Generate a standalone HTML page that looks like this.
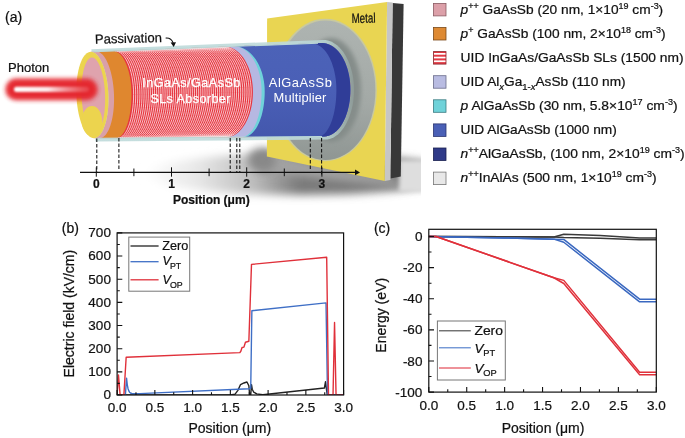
<!DOCTYPE html><html><head><meta charset="utf-8"><style>html,body{margin:0;padding:0;background:#fff;overflow:hidden}svg{display:block}text{font-family:'Liberation Sans', Arial, sans-serif}text[fill="#111"]{stroke:#111;stroke-width:0.22px}</style></head><body>
<svg width="685" height="438" viewBox="0 0 685 438">
<defs>
<filter id="bl2" x="-50%" y="-50%" width="200%" height="200%"><feGaussianBlur stdDeviation="2"/></filter>
<filter id="bl1" x="-50%" y="-50%" width="200%" height="200%"><feGaussianBlur stdDeviation="0.8"/></filter>
<filter id="bl05" x="-50%" y="-50%" width="200%" height="200%"><feGaussianBlur stdDeviation="0.5"/></filter>
<filter id="bl4" x="-50%" y="-50%" width="200%" height="200%"><feGaussianBlur stdDeviation="4"/></filter>
<filter id="bl8" x="-50%" y="-50%" width="200%" height="200%"><feGaussianBlur stdDeviation="10"/></filter>
<linearGradient id="core" x1="0" y1="0" x2="1" y2="0"><stop offset="0" stop-color="#fff"/><stop offset="0.45" stop-color="#fff" stop-opacity="0.9"/><stop offset="1" stop-color="#f3a0a4" stop-opacity="0.2"/></linearGradient>
<linearGradient id="blueg" x1="0" y1="0" x2="0" y2="1"><stop offset="0" stop-color="#4c63b8"/><stop offset="0.5" stop-color="#4a5fb6"/><stop offset="1" stop-color="#4256ab"/></linearGradient>
<linearGradient id="pass" x1="0" y1="0" x2="0" y2="1"><stop offset="0" stop-color="#d3e6e6"/><stop offset="1" stop-color="#b6d6d6"/></linearGradient>
<clipPath id="panelA"><rect x="0" y="0" width="421" height="215"/></clipPath>
</defs>
<linearGradient id="shg" x1="145" y1="0" x2="300" y2="0" gradientUnits="userSpaceOnUse"><stop offset="0" stop-color="#ffffff"/><stop offset="0.35" stop-color="#e6e6e6"/><stop offset="0.7" stop-color="#bdbdbd"/><stop offset="1" stop-color="#7a7a7a"/></linearGradient>
<g clip-path="url(#panelA)">
<ellipse cx="300" cy="174" rx="155" ry="21" fill="url(#shg)" filter="url(#bl4)"/>
<polygon points="262,152 390,178 408,188 262,172" fill="#a2a2a2" filter="url(#bl4)"/>
<rect x="399" y="160" width="30" height="32" fill="#dedede" filter="url(#bl2)"/>
<ellipse cx="262" cy="160" rx="14" ry="12" fill="#888" filter="url(#bl4)"/>
</g>
<polygon points="392.6,3.1 403.6,4.1 400.8,176.4 390.4,178.5" fill="#383838"/>
<polygon points="387.1,2 392.6,2.4 390.4,179.9 384.7,180.9" fill="#c6c6c6"/>
<polygon points="267.1,18.5 387.1,2 384.7,180.9 266.9,156.4" fill="#e9d552"/>
<ellipse cx="325.2" cy="90" rx="51.6" ry="71.3" fill="#c9c99e"/>
<linearGradient id="discg" x1="0" y1="20" x2="0" y2="160" gradientUnits="userSpaceOnUse"><stop offset="0" stop-color="#aeb4b1"/><stop offset="0.6" stop-color="#a3a9a6"/><stop offset="1" stop-color="#8f9693"/></linearGradient>
<ellipse cx="325.4" cy="90.3" rx="50" ry="69.8" fill="url(#discg)"/>
<ellipse cx="331" cy="90" rx="30" ry="52" fill="#858d8a" filter="url(#bl2)"/>
<linearGradient id="shellg" x1="300" y1="0" x2="354" y2="0" gradientUnits="userSpaceOnUse"><stop offset="0" stop-color="#bedada"/><stop offset="0.5" stop-color="#b8d3d1"/><stop offset="1" stop-color="#8f9c99"/></linearGradient>
<path d="M91.40,49.18 L323.00,39.92 L323.00,39.92 L325.43,40.08 L327.85,40.54 L330.24,41.30 L332.58,42.36 L334.86,43.72 L337.07,45.35 L339.20,47.27 L341.22,49.44 L343.13,51.86 L344.92,54.52 L346.57,57.39 L348.08,60.46 L349.43,63.72 L350.62,67.13 L351.64,70.68 L352.48,74.35 L353.14,78.12 L353.62,81.96 L353.90,85.84 L354.00,89.75 L353.91,93.66 L353.64,97.55 L353.20,101.38 L352.58,105.15 L351.79,108.82 L350.84,112.37 L349.73,115.79 L348.46,119.04 L347.05,122.11 L345.51,124.99 L343.83,127.64 L342.05,130.06 L340.15,132.24 L338.17,134.15 L336.10,135.79 L333.96,137.14 L331.77,138.20 L329.54,138.97 L327.28,139.43 L325.00,139.58 L95.40,141.43 Z" fill="url(#shellg)" opacity="0.9"/>
<clipPath id="cyl"><path d="M92.40,51.78 L322.40,43.12 L322.40,43.12 L324.60,43.27 L326.78,43.70 L328.94,44.41 L331.05,45.40 L333.12,46.67 L335.11,48.20 L337.03,49.99 L338.86,52.03 L340.58,54.29 L342.20,56.78 L343.69,59.47 L345.05,62.34 L346.27,65.39 L347.35,68.58 L348.27,71.91 L349.03,75.34 L349.63,78.87 L350.06,82.46 L350.31,86.09 L350.40,89.75 L350.32,93.41 L350.08,97.05 L349.68,100.64 L349.13,104.16 L348.42,107.60 L347.57,110.92 L346.57,114.12 L345.43,117.16 L344.17,120.03 L342.78,122.72 L341.29,125.21 L339.68,127.48 L337.98,129.51 L336.20,131.30 L334.35,132.83 L332.43,134.10 L330.47,135.09 L328.47,135.81 L326.44,136.24 L324.40,136.38 L92.40,138.23 L93.91,138.23 L92.65,138.10 L91.39,137.70 L90.14,137.03 L88.89,136.11 L87.67,134.94 L86.48,133.52 L85.33,131.86 L84.22,129.97 L83.16,127.87 L82.16,125.57 L81.22,123.08 L80.34,120.41 L79.55,117.59 L78.83,114.63 L78.20,111.55 L77.65,108.36 L77.20,105.10 L76.83,101.77 L76.57,98.40 L76.40,95.01 L76.33,91.62 L76.36,88.25 L76.49,84.92 L76.72,81.65 L77.04,78.47 L77.46,75.38 L77.97,72.42 L78.57,69.60 L79.25,66.94 L80.02,64.44 L80.86,62.14 L81.77,60.04 L82.75,58.15 L83.79,56.50 L84.88,55.08 L86.02,53.90 L87.19,52.98 L88.40,52.32 L89.64,51.92 L90.89,51.78 Z"/></clipPath>
<g clip-path="url(#cyl)">
<path d="M420.00,43.78 L90.89,43.78 L90.89,51.78 L92.15,51.92 L93.41,52.32 L94.66,52.98 L95.91,53.90 L97.13,55.08 L98.32,56.50 L99.47,58.15 L100.58,60.04 L101.64,62.14 L102.64,64.44 L103.58,66.94 L104.46,69.60 L105.25,72.42 L105.97,75.38 L106.60,78.47 L107.15,81.65 L107.60,84.92 L107.97,88.25 L108.23,91.62 L108.40,95.01 L108.47,98.40 L108.44,101.77 L108.31,105.10 L108.08,108.36 L107.76,111.55 L107.34,114.63 L106.83,117.59 L106.23,120.41 L105.55,123.08 L104.78,125.57 L103.94,127.87 L103.03,129.97 L102.05,131.86 L101.01,133.52 L99.92,134.94 L98.78,136.11 L97.61,137.03 L96.40,137.70 L95.16,138.10 L93.91,138.23 L93.91,146.23 L420.00,146.23 Z" fill="#d9a0a9"/>
<path d="M420.00,43.58 L96.48,43.58 L96.48,51.58 L97.74,51.71 L99.01,52.11 L100.26,52.77 L101.50,53.69 L102.72,54.87 L103.91,56.29 L105.07,57.96 L106.18,59.85 L107.24,61.95 L108.24,64.26 L109.18,66.76 L110.05,69.43 L110.85,72.25 L111.57,75.22 L112.20,78.31 L112.75,81.50 L113.20,84.77 L113.57,88.11 L113.83,91.48 L114.00,94.88 L114.07,98.28 L114.04,101.65 L113.91,104.99 L113.69,108.26 L113.36,111.45 L112.94,114.54 L112.43,117.51 L111.84,120.33 L111.15,123.00 L110.39,125.50 L109.54,127.81 L108.63,129.91 L107.65,131.80 L106.61,133.46 L105.52,134.89 L104.39,136.06 L103.21,136.99 L102.00,137.65 L100.77,138.05 L99.52,138.18 L99.52,146.18 L420.00,146.18 Z" fill="#df872f"/>
<path d="M420.00,42.95 L113.00,42.95 L113.00,50.95 L114.45,51.09 L115.89,51.49 L117.32,52.16 L118.72,53.08 L120.08,54.27 L121.40,55.70 L122.67,57.37 L123.87,59.27 L125.01,61.39 L126.08,63.71 L127.07,66.22 L127.97,68.90 L128.77,71.75 L129.48,74.73 L130.09,77.84 L130.59,81.04 L130.99,84.34 L131.27,87.69 L131.44,91.09 L131.50,94.50 L131.45,97.92 L131.31,101.31 L131.08,104.67 L130.75,107.96 L130.34,111.17 L129.83,114.27 L129.25,117.26 L128.58,120.10 L127.83,122.78 L127.02,125.30 L126.14,127.62 L125.19,129.73 L124.19,131.63 L123.15,133.30 L122.06,134.74 L120.93,135.92 L119.77,136.85 L118.59,137.52 L117.40,137.92 L116.20,138.05 L116.20,146.05 L420.00,146.05 Z" fill="#e6343f"/>
<path d="M420.00,38.79 L225.20,38.79 L225.20,46.79 L227.37,46.93 L229.53,47.34 L231.67,48.03 L233.76,49.00 L235.80,50.23 L237.78,51.71 L239.67,53.45 L241.48,55.42 L243.19,57.61 L244.79,60.02 L246.26,62.63 L247.61,65.41 L248.82,68.36 L249.88,71.46 L250.79,74.68 L251.54,78.01 L252.13,81.43 L252.56,84.91 L252.81,88.43 L252.90,91.97 L252.82,95.52 L252.57,99.04 L252.16,102.52 L251.59,105.94 L250.87,109.27 L249.99,112.49 L248.97,115.59 L247.80,118.54 L246.50,121.32 L245.08,123.93 L243.54,126.34 L241.89,128.53 L240.15,130.50 L238.32,132.24 L236.42,133.72 L234.45,134.95 L232.43,135.91 L230.38,136.61 L228.29,137.02 L226.20,137.16 L226.20,145.16 L420.00,145.16 Z" fill="#b6b8e2"/>
<path d="M420.00,38.33 L234.10,38.33 L234.10,46.33 L236.26,46.47 L238.40,46.89 L240.52,47.58 L242.60,48.55 L244.62,49.78 L246.58,51.28 L248.47,53.02 L250.26,55.00 L251.96,57.20 L253.55,59.62 L255.01,62.23 L256.35,65.03 L257.55,67.99 L258.60,71.10 L259.51,74.34 L260.25,77.68 L260.84,81.11 L261.26,84.60 L261.52,88.14 L261.60,91.70 L261.54,95.26 L261.35,98.79 L261.05,102.29 L260.62,105.72 L260.08,109.06 L259.42,112.29 L258.65,115.40 L257.78,118.36 L256.81,121.16 L255.74,123.78 L254.59,126.20 L253.36,128.40 L252.05,130.38 L250.68,132.12 L249.25,133.61 L247.78,134.84 L246.27,135.81 L244.73,136.51 L243.17,136.93 L241.60,137.07 L241.60,145.07 L420.00,145.07 Z" fill="#6fd2da"/>
<path d="M420.00,38.29 L234.30,38.29 L234.30,46.29 L236.69,46.43 L239.06,46.85 L241.40,47.54 L243.69,48.51 L245.93,49.74 L248.10,51.23 L250.18,52.98 L252.17,54.96 L254.04,57.16 L255.80,59.58 L257.42,62.20 L258.89,65.00 L260.22,67.96 L261.39,71.07 L262.39,74.30 L263.21,77.65 L263.86,81.08 L264.33,84.57 L264.61,88.11 L264.70,91.67 L264.64,95.23 L264.44,98.77 L264.12,102.27 L263.67,105.70 L263.10,109.04 L262.41,112.28 L261.61,115.38 L260.69,118.35 L259.67,121.15 L258.55,123.76 L257.34,126.18 L256.04,128.39 L254.67,130.37 L253.23,132.11 L251.74,133.60 L250.19,134.83 L248.60,135.80 L246.99,136.50 L245.35,136.92 L243.70,137.06 L243.70,145.06 L420.00,145.06 Z" fill="url(#blueg)"/>
<path d="M420.00,35.44 L311.70,35.44 L311.70,43.44 L313.64,43.58 L315.56,44.01 L317.47,44.72 L319.33,45.72 L321.15,46.98 L322.91,48.51 L324.61,50.29 L326.22,52.32 L327.74,54.58 L329.17,57.06 L330.48,59.74 L331.68,62.61 L332.76,65.65 L333.71,68.83 L334.52,72.15 L335.19,75.57 L335.72,79.09 L336.10,82.67 L336.32,86.30 L336.40,89.94 L336.34,93.59 L336.18,97.22 L335.90,100.80 L335.51,104.31 L335.01,107.74 L334.42,111.06 L333.72,114.24 L332.92,117.28 L332.04,120.15 L331.07,122.83 L330.02,125.31 L328.90,127.57 L327.71,129.60 L326.46,131.38 L325.16,132.91 L323.82,134.17 L322.45,135.16 L321.05,135.88 L319.63,136.31 L318.20,136.45 L318.20,144.45 L420.00,144.45 Z" fill="#303d98"/>
<path d="M114.94,50.88 L116.89,51.12 L118.82,51.83 L120.71,53.01 L122.53,54.65 L124.27,56.72 L125.91,59.20 L127.43,62.07 L128.81,65.30 L130.04,68.84 L131.10,72.67 L131.99,76.73 L132.69,80.99 L133.19,85.40 L133.50,89.90 L133.60,94.46 L133.52,99.01 L133.26,103.52 L132.84,107.92 L132.26,112.18 L131.52,116.25 L130.64,120.07 L129.62,123.62 L128.47,126.84 L127.21,129.71 L125.85,132.20 L124.41,134.27 L122.89,135.90 L121.32,137.08 L119.72,137.80 L118.10,138.04 M116.88,50.81 L118.85,51.05 L120.79,51.76 L122.70,52.94 L124.54,54.58 L126.29,56.65 L127.94,59.14 L129.47,62.01 L130.87,65.24 L132.11,68.78 L133.18,72.61 L134.07,76.68 L134.78,80.94 L135.29,85.35 L135.60,89.86 L135.70,94.41 L135.61,98.97 L135.36,103.48 L134.93,107.89 L134.34,112.15 L133.60,116.22 L132.70,120.05 L131.67,123.59 L130.51,126.82 L129.23,129.69 L127.85,132.18 L126.39,134.25 L124.86,135.89 L123.27,137.07 L121.65,137.78 L120.01,138.02 M118.82,50.74 L120.81,50.98 L122.77,51.69 L124.69,52.87 L126.54,54.51 L128.31,56.58 L129.98,59.07 L131.52,61.94 L132.93,65.17 L134.18,68.72 L135.26,72.55 L136.16,76.62 L136.87,80.89 L137.39,85.30 L137.70,89.81 L137.80,94.37 L137.71,98.93 L137.45,103.44 L137.02,107.85 L136.43,112.12 L135.67,116.19 L134.76,120.02 L133.72,123.57 L132.54,126.80 L131.25,129.67 L129.85,132.16 L128.37,134.23 L126.82,135.87 L125.21,137.05 L123.57,137.77 L121.91,138.01 M120.76,50.66 L122.76,50.90 L124.74,51.62 L126.68,52.80 L128.55,54.44 L130.33,56.51 L132.01,59.00 L133.57,61.88 L134.98,65.11 L136.25,68.66 L137.34,72.50 L138.25,76.57 L138.96,80.83 L139.48,85.25 L139.80,89.76 L139.90,94.33 L139.81,98.89 L139.55,103.40 L139.11,107.82 L138.51,112.09 L137.74,116.16 L136.83,119.99 L135.77,123.54 L134.58,126.77 L133.27,129.65 L131.86,132.14 L130.36,134.21 L128.78,135.85 L127.16,137.04 L125.49,137.75 L123.81,137.99 M122.70,50.59 L124.72,50.83 L126.72,51.55 L128.67,52.73 L130.55,54.37 L132.35,56.45 L134.05,58.94 L135.62,61.81 L137.04,65.05 L138.31,68.60 L139.41,72.44 L140.33,76.51 L141.06,80.78 L141.58,85.20 L141.89,89.72 L142.00,94.28 L141.91,98.85 L141.64,103.37 L141.20,107.78 L140.59,112.05 L139.82,116.13 L138.89,119.96 L137.82,123.52 L136.61,126.75 L135.29,129.63 L133.86,132.12 L132.34,134.20 L130.75,135.84 L129.10,137.02 L127.42,137.73 L125.71,137.97 M124.65,50.52 L126.68,50.76 L128.69,51.48 L130.66,52.66 L132.56,54.30 L134.37,56.38 L136.08,58.87 L137.66,61.75 L139.10,64.99 L140.38,68.54 L141.49,72.38 L142.42,76.46 L143.15,80.73 L143.67,85.15 L143.99,89.67 L144.10,94.24 L144.01,98.81 L143.74,103.33 L143.29,107.75 L142.67,112.02 L141.89,116.10 L140.95,119.94 L139.87,123.49 L138.65,126.73 L137.31,129.61 L135.86,132.10 L134.32,134.18 L132.71,135.82 L131.04,137.00 L129.34,137.72 L127.62,137.96 M126.59,50.45 L128.64,50.69 L130.66,51.40 L132.65,52.59 L134.56,54.23 L136.39,56.31 L138.11,58.80 L139.71,61.68 L141.16,64.92 L142.45,68.48 L143.57,72.32 L144.50,76.40 L145.24,80.68 L145.77,85.10 L146.09,89.62 L146.20,94.20 L146.11,98.77 L145.84,103.29 L145.38,107.71 L144.76,111.99 L143.97,116.07 L143.01,119.91 L141.92,123.47 L140.68,126.71 L139.32,129.59 L137.86,132.08 L136.30,134.16 L134.67,135.80 L132.99,136.99 L131.26,137.70 L129.52,137.94 M128.53,50.38 L130.59,50.62 L132.64,51.33 L134.64,52.52 L136.57,54.16 L138.41,56.24 L140.15,58.74 L141.76,61.62 L143.22,64.86 L144.52,68.42 L145.65,72.26 L146.59,76.35 L147.33,80.62 L147.87,85.05 L148.19,89.58 L148.30,94.15 L148.21,98.73 L147.93,103.25 L147.47,107.68 L146.84,111.96 L146.04,116.04 L145.08,119.88 L143.96,123.44 L142.72,126.68 L141.34,129.57 L139.86,132.06 L138.29,134.14 L136.64,135.79 L134.93,136.97 L133.19,137.69 L131.42,137.93 M130.47,50.30 L132.55,50.54 L134.61,51.26 L136.63,52.45 L138.57,54.09 L140.43,56.17 L142.18,58.67 L143.81,61.56 L145.28,64.80 L146.59,68.36 L147.73,72.21 L148.68,76.29 L149.42,80.57 L149.96,85.00 L150.29,89.53 L150.40,94.11 L150.31,98.69 L150.03,103.22 L149.56,107.64 L148.92,111.93 L148.11,116.01 L147.14,119.86 L146.01,123.42 L144.75,126.66 L143.36,129.55 L141.86,132.04 L140.27,134.13 L138.60,135.77 L136.88,136.96 L135.11,137.67 L133.33,137.91 M132.41,50.23 L134.51,50.47 L136.59,51.19 L138.62,52.38 L140.58,54.02 L142.45,56.10 L144.22,58.60 L145.85,61.49 L147.34,64.73 L148.66,68.30 L149.81,72.15 L150.76,76.24 L151.52,80.52 L152.06,84.95 L152.39,89.48 L152.50,94.06 L152.41,98.65 L152.12,103.18 L151.65,107.61 L151.01,111.89 L150.19,115.98 L149.20,119.83 L148.06,123.39 L146.79,126.64 L145.38,129.53 L143.86,132.02 L142.25,134.11 L140.57,135.75 L138.82,136.94 L137.03,137.66 L135.23,137.90 M134.35,50.16 L136.47,50.40 L138.56,51.12 L140.61,52.31 L142.59,53.95 L144.47,56.04 L146.25,58.54 L147.90,61.43 L149.40,64.67 L150.73,68.24 L151.89,72.09 L152.85,76.18 L153.61,80.47 L154.16,84.90 L154.49,89.44 L154.60,94.02 L154.50,98.61 L154.22,103.14 L153.74,107.57 L153.09,111.86 L152.26,115.95 L151.26,119.80 L150.11,123.37 L148.82,126.62 L147.40,129.51 L145.87,132.01 L144.24,134.09 L142.53,135.74 L140.76,136.92 L138.96,137.64 L137.13,137.88 M136.29,50.09 L138.42,50.33 L140.53,51.05 L142.60,52.24 L144.59,53.88 L146.50,55.97 L148.29,58.47 L149.95,61.36 L151.46,64.61 L152.80,68.18 L153.97,72.03 L154.94,76.13 L155.70,80.41 L156.25,84.85 L156.59,89.39 L156.70,93.98 L156.60,98.56 L156.31,103.10 L155.84,107.54 L155.17,111.83 L154.33,115.92 L153.33,119.77 L152.16,123.35 L150.85,126.59 L149.42,129.48 L147.87,131.99 L146.22,134.07 L144.49,135.72 L142.71,136.91 L140.88,137.63 L139.03,137.87 M138.23,50.02 L140.38,50.26 L142.51,50.98 L144.59,52.17 L146.60,53.81 L148.52,55.90 L150.32,58.40 L151.99,61.30 L153.52,64.55 L154.87,68.12 L156.04,71.97 L157.02,76.07 L157.79,80.36 L158.35,84.80 L158.69,89.34 L158.80,93.93 L158.70,98.52 L158.41,103.06 L157.93,107.50 L157.26,111.80 L156.41,115.89 L155.39,119.75 L154.21,123.32 L152.89,126.57 L151.44,129.46 L149.87,131.97 L148.20,134.05 L146.46,135.70 L144.65,136.89 L142.80,137.61 L140.94,137.85 M140.17,49.94 L142.34,50.18 L144.48,50.90 L146.58,52.09 L148.60,53.74 L150.54,55.83 L152.36,58.34 L154.04,61.23 L155.58,64.48 L156.94,68.06 L158.12,71.92 L159.11,76.02 L159.89,80.31 L160.45,84.75 L160.79,89.30 L160.90,93.89 L160.80,98.48 L160.51,103.03 L160.02,107.47 L159.34,111.76 L158.48,115.86 L157.45,119.72 L156.26,123.30 L154.92,126.55 L153.46,129.44 L151.87,131.95 L150.19,134.04 L148.42,135.69 L146.59,136.88 L144.73,137.60 L142.84,137.84 M142.11,49.87 L144.30,50.11 L146.46,50.83 L148.57,52.02 L150.61,53.67 L152.56,55.76 L154.39,58.27 L156.09,61.17 L157.64,64.42 L159.01,68.00 L160.20,71.86 L161.19,75.96 L161.98,80.26 L162.54,84.70 L162.89,89.25 L163.00,93.85 L162.90,98.44 L162.60,102.99 L162.11,107.43 L161.42,111.73 L160.55,115.83 L159.51,119.69 L158.31,123.27 L156.96,126.53 L155.47,129.42 L153.87,131.93 L152.17,134.02 L150.38,135.67 L148.54,136.86 L146.65,137.58 L144.74,137.82 M144.05,49.80 L146.25,50.04 L148.43,50.76 L150.56,51.95 L152.61,53.60 L154.58,55.69 L156.42,58.20 L158.14,61.10 L159.69,64.36 L161.08,67.94 L162.28,71.80 L163.28,75.90 L164.07,80.20 L164.64,84.65 L164.98,89.20 L165.10,93.80 L165.00,98.40 L164.70,102.95 L164.20,107.40 L163.50,111.70 L162.63,115.80 L161.58,119.67 L160.36,123.25 L158.99,126.50 L157.49,129.40 L155.87,131.91 L154.15,134.00 L152.35,135.65 L150.48,136.84 L148.57,137.56 L146.64,137.81 M145.99,49.73 L148.21,49.97 L150.40,50.69 L152.55,51.88 L154.62,53.53 L156.60,55.63 L158.46,58.14 L160.18,61.04 L161.75,64.30 L163.15,67.88 L164.36,71.74 L165.37,75.85 L166.16,80.15 L166.74,84.60 L167.08,89.16 L167.20,93.76 L167.10,98.36 L166.79,102.91 L166.29,107.36 L165.59,111.67 L164.70,115.77 L163.64,119.64 L162.41,123.22 L161.03,126.48 L159.51,129.38 L157.87,131.89 L156.13,133.98 L154.31,135.63 L152.43,136.83 L150.50,137.55 L148.55,137.79 M147.94,49.66 L150.17,49.90 L152.38,50.62 L154.54,51.81 L156.63,53.46 L158.62,55.56 L160.49,58.07 L162.23,60.97 L163.81,64.23 L165.22,67.82 L166.44,71.69 L167.45,75.79 L168.25,80.10 L168.83,84.55 L169.18,89.11 L169.30,93.71 L169.20,98.32 L168.89,102.88 L168.38,107.33 L167.67,111.64 L166.77,115.74 L165.70,119.61 L164.46,123.20 L163.06,126.46 L161.53,129.36 L159.88,131.87 L158.12,133.97 L156.28,135.62 L154.37,136.81 L152.42,137.53 L150.45,137.77 M149.88,49.58 L152.13,49.82 L154.35,50.55 L156.53,51.74 L158.63,53.39 L160.64,55.49 L162.53,58.00 L164.28,60.91 L165.87,64.17 L167.29,67.76 L168.52,71.63 L169.54,75.74 L170.35,80.05 L170.93,84.50 L171.28,89.06 L171.40,93.67 L171.30,98.28 L170.98,102.84 L170.47,107.30 L169.75,111.60 L168.85,115.72 L167.76,119.59 L166.51,123.17 L165.10,126.43 L163.55,129.34 L161.88,131.85 L160.10,133.95 L158.24,135.60 L156.31,136.80 L154.34,137.52 L152.35,137.76 M151.82,49.51 L154.08,49.75 L156.33,50.48 L158.52,51.67 L160.64,53.33 L162.66,55.42 L164.56,57.94 L166.33,60.84 L167.93,64.11 L169.36,67.70 L170.60,71.57 L171.63,75.68 L172.44,79.99 L173.03,84.46 L173.38,89.02 L173.50,93.63 L173.39,98.24 L173.08,102.80 L172.56,107.26 L171.84,111.57 L170.92,115.69 L169.82,119.56 L168.56,123.15 L167.13,126.41 L165.57,129.32 L163.88,131.83 L162.08,133.93 L160.20,135.58 L158.26,136.78 L156.27,137.50 L154.26,137.74 M153.76,49.44 L156.04,49.68 L158.30,50.40 L160.51,51.60 L162.64,53.26 L164.68,55.35 L166.60,57.87 L168.37,60.78 L169.99,64.05 L171.43,67.64 L172.67,71.51 L173.71,75.63 L174.53,79.94 L175.12,84.41 L175.48,88.97 L175.60,93.58 L175.49,98.20 L175.18,102.76 L174.65,107.23 L173.92,111.54 L173.00,115.66 L171.89,119.53 L170.61,123.12 L169.17,126.39 L167.59,129.30 L165.88,131.81 L164.07,133.91 L162.17,135.57 L160.20,136.76 L158.19,137.49 L156.16,137.73 M155.70,49.37 L158.00,49.61 L160.27,50.33 L162.50,51.53 L164.65,53.19 L166.70,55.29 L168.63,57.80 L170.42,60.71 L172.05,63.98 L173.50,67.58 L174.75,71.45 L175.80,75.57 L176.62,79.89 L177.22,84.36 L177.58,88.92 L177.70,93.54 L177.59,98.16 L177.27,102.72 L176.74,107.19 L176.00,111.51 L175.07,115.63 L173.95,119.50 L172.66,123.10 L171.20,126.37 L169.60,129.28 L167.88,131.79 L166.05,133.89 L164.13,135.55 L162.14,136.75 L160.11,137.47 L158.06,137.71 M157.64,49.29 L159.96,49.54 L162.25,50.26 L164.49,51.46 L166.65,53.12 L168.72,55.22 L170.67,57.74 L172.47,60.65 L174.11,63.92 L175.57,67.52 L176.83,71.40 L177.88,75.52 L178.72,79.84 L179.32,84.31 L179.68,88.88 L179.80,93.50 L179.69,98.12 L179.37,102.69 L178.83,107.16 L178.09,111.47 L177.14,115.60 L176.01,119.48 L174.71,123.07 L173.24,126.34 L171.62,129.26 L169.88,131.78 L168.03,133.88 L166.09,135.53 L164.09,136.73 L162.04,137.46 L159.96,137.70 M159.58,49.22 L161.91,49.47 L164.22,50.19 L166.48,51.39 L168.66,53.05 L170.74,55.15 L172.70,57.67 L174.52,60.58 L176.17,63.86 L177.64,67.45 L178.91,71.34 L179.97,75.46 L180.81,79.78 L181.41,84.26 L181.78,88.83 L181.90,93.45 L181.79,98.08 L181.46,102.65 L180.92,107.12 L180.17,111.44 L179.22,115.57 L178.07,119.45 L176.75,123.05 L175.27,126.32 L173.64,129.24 L171.88,131.76 L170.02,133.86 L168.06,135.52 L166.03,136.72 L163.96,137.44 L161.87,137.68 M161.52,49.15 L163.87,49.39 L166.19,50.12 L168.47,51.32 L170.66,52.98 L172.76,55.08 L174.73,57.60 L176.56,60.52 L178.23,63.79 L179.71,67.39 L180.99,71.28 L182.06,75.41 L182.90,79.73 L183.51,84.21 L183.88,88.78 L184.00,93.41 L183.89,98.04 L183.56,102.61 L183.01,107.09 L182.25,111.41 L181.29,115.54 L180.14,119.42 L178.80,123.02 L177.31,126.30 L175.66,129.21 L173.89,131.74 L172.00,133.84 L170.02,135.50 L167.98,136.70 L165.88,137.42 L163.77,137.67 M163.46,49.08 L165.83,49.32 L168.17,50.05 L170.46,51.25 L172.67,52.91 L174.78,55.01 L176.77,57.54 L178.61,60.45 L180.29,63.73 L181.78,67.33 L183.07,71.22 L184.14,75.35 L184.99,79.68 L185.61,84.16 L185.98,88.74 L186.10,93.37 L185.99,97.99 L185.65,102.57 L185.10,107.05 L184.33,111.38 L183.36,115.51 L182.20,119.40 L180.85,123.00 L179.34,126.28 L177.68,129.19 L175.89,131.72 L173.98,133.82 L171.99,135.48 L169.92,136.68 L167.81,137.41 L165.67,137.65 M165.40,49.01 L167.79,49.25 L170.14,49.98 L172.45,51.18 L174.68,52.84 L176.80,54.94 L178.80,57.47 L180.66,60.39 L182.34,63.67 L183.85,67.27 L185.15,71.16 L186.23,75.30 L187.08,79.63 L187.70,84.11 L188.08,88.69 L188.20,93.32 L188.09,97.95 L187.75,102.53 L187.19,107.02 L186.42,111.35 L185.44,115.48 L184.26,119.37 L182.90,122.97 L181.38,126.25 L179.70,129.17 L177.89,131.70 L175.96,133.80 L173.95,135.47 L171.86,136.67 L169.73,137.39 L167.58,137.64 M167.34,48.93 L169.74,49.18 L172.12,49.90 L174.44,51.10 L176.68,52.77 L178.82,54.88 L180.84,57.40 L182.70,60.32 L184.40,63.61 L185.92,67.21 L187.22,71.11 L188.32,75.24 L189.18,79.57 L189.80,84.06 L190.17,88.64 L190.30,93.28 L190.19,97.91 L189.84,102.50 L189.28,106.98 L188.50,111.31 L187.51,115.45 L186.32,119.34 L184.95,122.95 L183.41,126.23 L181.72,129.15 L179.89,131.68 L177.95,133.79 L175.91,135.45 L173.81,136.65 L171.65,137.38 L169.48,137.62 M169.28,48.86 L171.70,49.11 L174.09,49.83 L176.43,51.03 L178.69,52.70 L180.84,54.81 L182.87,57.34 L184.75,60.26 L186.46,63.54 L187.99,67.15 L189.30,71.05 L190.40,75.19 L191.27,79.52 L191.89,84.01 L192.27,88.60 L192.40,93.23 L192.28,97.87 L191.94,102.46 L191.37,106.95 L190.58,111.28 L189.58,115.42 L188.39,119.31 L187.00,122.92 L185.45,126.21 L183.74,129.13 L181.89,131.66 L179.93,133.77 L177.88,135.43 L175.75,136.64 L173.58,137.36 L171.38,137.61 M171.23,48.79 L173.66,49.03 L176.06,49.76 L178.42,50.96 L180.69,52.63 L182.86,54.74 L184.91,57.27 L186.80,60.19 L188.52,63.48 L190.06,67.09 L191.38,70.99 L192.49,75.13 L193.36,79.47 L193.99,83.96 L194.37,88.55 L194.50,93.19 L194.38,97.83 L194.04,102.42 L193.46,106.91 L192.67,111.25 L191.66,115.39 L190.45,119.29 L189.05,122.90 L187.48,126.19 L185.75,129.11 L183.89,131.64 L181.91,133.75 L179.84,135.42 L177.70,136.62 L175.50,137.35 L173.28,137.59 M173.17,48.72 L175.62,48.96 L178.04,49.69 L180.41,50.89 L182.70,52.56 L184.88,54.67 L186.94,57.20 L188.85,60.13 L190.58,63.42 L192.12,67.03 L193.46,70.93 L194.57,75.08 L195.45,79.42 L196.09,83.91 L196.47,88.50 L196.60,93.15 L196.48,97.79 L196.13,102.38 L195.55,106.88 L194.75,111.22 L193.73,115.36 L192.51,119.26 L191.10,122.87 L189.52,126.16 L187.77,129.09 L185.89,131.62 L183.90,133.73 L181.80,135.40 L179.64,136.60 L177.43,137.33 L175.19,137.57 M175.11,48.65 L177.57,48.89 L180.01,49.62 L182.40,50.82 L184.70,52.49 L186.90,54.60 L188.97,57.14 L190.89,60.07 L192.64,63.36 L194.19,66.97 L195.54,70.87 L196.66,75.02 L197.55,79.36 L198.18,83.86 L198.57,88.46 L198.70,93.10 L198.58,97.75 L198.23,102.35 L197.64,106.84 L196.83,111.18 L195.80,115.33 L194.57,119.23 L193.15,122.85 L191.55,126.14 L189.79,129.07 L187.89,131.60 L185.88,133.72 L183.77,135.38 L181.58,136.59 L179.35,137.32 L177.09,137.56 M177.05,48.57 L179.53,48.82 L181.99,49.55 L184.39,50.75 L186.71,52.42 L188.92,54.53 L191.01,57.07 L192.94,60.00 L194.70,63.29 L196.26,66.91 L197.62,70.82 L198.75,74.97 L199.64,79.31 L200.28,83.81 L200.67,88.41 L200.80,93.06 L200.68,97.71 L200.32,102.31 L199.73,106.81 L198.91,111.15 L197.88,115.30 L196.64,119.21 L195.20,122.83 L193.58,126.12 L191.81,129.05 L189.90,131.58 L187.86,133.70 L185.73,135.37 L183.53,136.57 L181.27,137.30 L178.99,137.54 M178.99,48.50 L181.49,48.75 L183.96,49.47 L186.38,50.68 L188.71,52.35 L190.94,54.47 L193.04,57.00 L194.99,59.94 L196.76,63.23 L198.33,66.85 L199.70,70.76 L200.83,74.91 L201.73,79.26 L202.38,83.76 L202.77,88.36 L202.90,93.02 L202.78,97.67 L202.42,102.27 L201.82,106.77 L201.00,111.12 L199.95,115.27 L198.70,119.18 L197.25,122.80 L195.62,126.10 L193.83,129.03 L191.90,131.56 L189.85,133.68 L187.70,135.35 L185.47,136.56 L183.20,137.28 L180.90,137.53 M180.93,48.43 L183.45,48.67 L185.93,49.40 L188.37,50.61 L190.72,52.28 L192.96,54.40 L195.08,56.94 L197.04,59.87 L198.82,63.17 L200.40,66.79 L201.78,70.70 L202.92,74.85 L203.82,79.21 L204.47,83.71 L204.87,88.32 L205.00,92.97 L204.88,97.63 L204.51,102.23 L203.91,106.74 L203.08,111.09 L202.03,115.24 L200.76,119.15 L199.30,122.78 L197.65,126.07 L195.85,129.01 L193.90,131.55 L191.83,133.66 L189.66,135.33 L187.41,136.54 L185.12,137.27 L182.80,137.51 M182.87,48.36 L185.40,48.60 L187.91,49.33 L190.36,50.54 L192.73,52.21 L194.99,54.33 L197.11,56.87 L199.08,59.81 L200.88,63.10 L202.47,66.73 L203.85,70.64 L205.01,74.80 L205.91,79.16 L206.57,83.66 L206.97,88.27 L207.10,92.93 L206.98,97.59 L206.61,102.19 L206.00,106.70 L205.16,111.06 L204.10,115.21 L202.82,119.13 L201.35,122.75 L199.69,126.05 L197.87,128.99 L195.90,131.53 L193.81,133.64 L191.62,135.32 L189.36,136.52 L187.04,137.25 L184.70,137.50 M184.81,48.29 L187.36,48.53 L189.88,49.26 L192.35,50.47 L194.73,52.14 L197.01,54.26 L199.15,56.80 L201.13,59.74 L202.94,63.04 L204.54,66.67 L205.93,70.59 L207.09,74.74 L208.01,79.10 L208.67,83.61 L209.07,88.22 L209.20,92.88 L209.08,97.55 L208.71,102.16 L208.09,106.67 L207.25,111.02 L206.17,115.18 L204.88,119.10 L203.40,122.73 L201.72,126.03 L199.89,128.96 L197.90,131.51 L195.79,133.63 L193.59,135.30 L191.30,136.51 L188.97,137.24 L186.60,137.48 M186.75,48.21 L189.32,48.46 L191.86,49.19 L194.34,50.40 L196.74,52.07 L199.03,54.19 L201.18,56.74 L203.18,59.68 L204.99,62.98 L206.61,66.61 L208.01,70.53 L209.18,74.69 L210.10,79.05 L210.76,83.56 L211.17,88.18 L211.30,92.84 L211.18,97.51 L210.80,102.12 L210.18,106.63 L209.33,110.99 L208.25,115.15 L206.95,119.07 L205.45,122.70 L203.76,126.00 L201.90,128.94 L199.90,131.49 L197.78,133.61 L195.55,135.28 L193.25,136.49 L190.89,137.22 L188.51,137.47 M188.69,48.14 L191.28,48.39 L193.83,49.12 L196.33,50.33 L198.74,52.00 L201.05,54.12 L203.22,56.67 L205.23,59.61 L207.05,62.92 L208.68,66.55 L210.09,70.47 L211.26,74.63 L212.19,79.00 L212.86,83.51 L213.26,88.13 L213.40,92.80 L213.27,97.46 L212.90,102.08 L212.27,106.60 L211.41,110.96 L210.32,115.12 L209.01,119.04 L207.49,122.68 L205.79,125.98 L203.92,128.92 L201.90,131.47 L199.76,133.59 L197.51,135.27 L195.19,136.48 L192.81,137.21 L190.41,137.45 M190.63,48.07 L193.23,48.31 L195.80,49.05 L198.32,50.26 L200.75,51.93 L203.07,54.06 L205.25,56.60 L207.27,59.55 L209.11,62.85 L210.75,66.49 L212.17,70.41 L213.35,74.58 L214.28,78.95 L214.96,83.46 L215.36,88.08 L215.50,92.75 L215.37,97.42 L214.99,102.04 L214.37,106.56 L213.50,110.93 L212.39,115.09 L211.07,119.02 L209.54,122.65 L207.83,125.96 L205.94,128.90 L203.91,131.45 L201.74,133.57 L199.48,135.25 L197.13,136.46 L194.74,137.19 L192.31,137.44 M192.58,48.00 L195.19,48.24 L197.78,48.97 L200.31,50.19 L202.75,51.86 L205.09,53.99 L207.28,56.54 L209.32,59.48 L211.17,62.79 L212.82,66.43 L214.25,70.35 L215.44,74.52 L216.38,78.89 L217.05,83.41 L217.46,88.04 L217.60,92.71 L217.47,97.38 L217.09,102.01 L216.46,106.53 L215.58,110.90 L214.47,115.07 L213.13,118.99 L211.59,122.63 L209.86,125.94 L207.96,128.88 L205.91,131.43 L203.73,133.56 L201.44,135.23 L199.08,136.44 L196.66,137.18 L194.21,137.42 M194.52,47.93 L197.15,48.17 L199.75,48.90 L202.30,50.12 L204.76,51.79 L207.11,53.92 L209.32,56.47 L211.37,59.42 L213.23,62.73 L214.89,66.37 L216.33,70.30 L217.52,74.47 L218.47,78.84 L219.15,83.36 L219.56,87.99 L219.70,92.67 L219.57,97.34 L219.18,101.97 L218.55,106.49 L217.66,110.86 L216.54,115.04 L215.20,118.96 L213.64,122.60 L211.90,125.91 L209.98,128.86 L207.91,131.41 L205.71,133.54 L203.40,135.22 L201.02,136.43 L198.58,137.16 L196.12,137.41 M196.46,47.85 L199.11,48.10 L201.73,48.83 L204.29,50.04 L206.76,51.72 L209.13,53.85 L211.35,56.40 L213.41,59.35 L215.29,62.67 L216.96,66.31 L218.40,70.24 L219.61,74.41 L220.56,78.79 L221.25,83.31 L221.66,87.94 L221.80,92.62 L221.67,97.30 L221.28,101.93 L220.64,106.46 L219.74,110.83 L218.61,115.01 L217.26,118.94 L215.69,122.58 L213.93,125.89 L212.00,128.84 L209.91,131.39 L207.69,133.52 L205.37,135.20 L202.96,136.41 L200.51,137.14 L198.02,137.39 M198.40,47.78 L201.06,48.03 L203.70,48.76 L206.28,49.97 L208.77,51.65 L211.15,53.78 L213.39,56.34 L215.46,59.29 L217.35,62.60 L219.03,66.25 L220.48,70.18 L221.70,74.36 L222.65,78.74 L223.34,83.26 L223.76,87.90 L223.90,92.58 L223.77,97.26 L223.38,101.89 L222.73,106.42 L221.83,110.80 L220.69,114.98 L219.32,118.91 L217.74,122.55 L215.97,125.87 L214.02,128.82 L211.91,131.37 L209.68,133.50 L207.33,135.18 L204.91,136.40 L202.43,137.13 L199.92,137.37 M200.34,47.71 L203.02,47.95 L205.67,48.69 L208.27,49.90 L210.78,51.58 L213.17,53.71 L215.42,56.27 L217.51,59.22 L219.41,62.54 L221.10,66.19 L222.56,70.12 L223.78,74.30 L224.74,78.68 L225.44,83.21 L225.86,87.85 L226.00,92.53 L225.87,97.22 L225.47,101.85 L224.82,106.39 L223.91,110.77 L222.76,114.95 L221.38,118.88 L219.79,122.53 L218.00,125.85 L216.04,128.80 L213.91,131.35 L211.66,133.48 L209.30,135.17 L206.85,136.38 L204.35,137.11 L201.83,137.36 M202.28,47.64 L204.98,47.88 L207.65,48.62 L210.26,49.83 L212.78,51.52 L215.19,53.65 L217.46,56.20 L219.56,59.16 L221.47,62.48 L223.17,66.13 L224.64,70.06 L225.87,74.25 L226.84,78.63 L227.54,83.17 L227.96,87.80 L228.10,92.49 L227.97,97.18 L227.57,101.82 L226.91,106.35 L225.99,110.73 L224.83,114.92 L223.45,118.85 L221.84,122.50 L220.04,125.82 L218.05,128.78 L215.91,131.33 L213.64,133.47 L211.26,135.15 L208.80,136.36 L206.28,137.10 L203.73,137.34 M204.22,47.57 L206.94,47.81 L209.62,48.55 L212.25,49.76 L214.79,51.45 L217.21,53.58 L219.49,56.14 L221.60,59.09 L223.53,62.42 L225.24,66.07 L226.72,70.01 L227.95,74.19 L228.93,78.58 L229.63,83.12 L230.06,87.76 L230.20,92.45 L230.07,97.14 L229.66,101.78 L229.00,106.32 L228.08,110.70 L226.91,114.89 L225.51,118.83 L223.89,122.48 L222.07,125.80 L220.07,128.76 L217.92,131.32 L215.62,133.45 L213.22,135.13 L210.74,136.35 L208.20,137.08 L205.63,137.33 M206.16,47.49 L208.89,47.74 L211.60,48.47 L214.24,49.69 L216.79,51.38 L219.23,53.51 L221.53,56.07 L223.65,59.03 L225.59,62.35 L227.31,66.01 L228.80,69.95 L230.04,74.14 L231.02,78.53 L231.73,83.07 L232.16,87.71 L232.30,92.40 L232.16,97.10 L231.76,101.74 L231.09,106.28 L230.16,110.67 L228.98,114.86 L227.57,118.80 L225.94,122.45 L224.11,125.78 L222.09,128.74 L219.92,131.30 L217.61,133.43 L215.19,135.12 L212.68,136.33 L210.12,137.07 L207.53,137.31 M208.10,47.42 L210.85,47.67 L213.57,48.40 L216.23,49.62 L218.80,51.31 L221.25,53.44 L223.56,56.00 L225.70,58.96 L227.65,62.29 L229.38,65.95 L230.88,69.89 L232.13,74.08 L233.11,78.47 L233.83,83.02 L234.26,87.66 L234.40,92.36 L234.26,97.06 L233.85,101.70 L233.18,106.25 L232.24,110.64 L231.06,114.83 L229.63,118.77 L227.99,122.43 L226.14,125.76 L224.11,128.72 L221.92,131.28 L219.59,133.41 L217.15,135.10 L214.63,136.32 L212.05,137.05 L209.44,137.30 M210.04,47.35 L212.81,47.60 L215.54,48.33 L218.22,49.55 L220.80,51.24 L223.27,53.37 L225.59,55.94 L227.75,58.90 L229.70,62.23 L231.45,65.89 L232.96,69.83 L234.21,74.03 L235.21,78.42 L235.92,82.97 L236.36,87.62 L236.50,92.32 L236.36,97.02 L235.95,101.66 L235.27,106.21 L234.32,110.61 L233.13,114.80 L231.69,118.75 L230.04,122.40 L228.18,125.73 L226.13,128.69 L223.92,131.26 L221.57,133.39 L219.11,135.08 L216.57,136.30 L213.97,137.04 L211.34,137.28 M211.98,47.28 L214.77,47.52 L217.52,48.26 L220.21,49.48 L222.81,51.17 L225.29,53.31 L227.63,55.87 L229.79,58.83 L231.76,62.16 L233.52,65.82 L235.03,69.77 L236.30,73.97 L237.30,78.37 L238.02,82.92 L238.45,87.57 L238.60,92.27 L238.46,96.98 L238.05,101.63 L237.36,106.18 L236.41,110.57 L235.20,114.77 L233.76,118.72 L232.09,122.38 L230.21,125.71 L228.15,128.67 L225.92,131.24 L223.56,133.38 L221.08,135.06 L218.51,136.28 L215.89,137.02 L213.24,137.27 M213.92,47.20 L216.72,47.45 L219.49,48.19 L222.20,49.41 L224.82,51.10 L227.31,53.24 L229.66,55.80 L231.84,58.77 L233.82,62.10 L235.59,65.76 L237.11,69.72 L238.39,73.92 L239.39,78.32 L240.11,82.87 L240.55,87.52 L240.70,92.23 L240.56,96.93 L240.14,101.59 L239.45,106.14 L238.49,110.54 L237.28,114.74 L235.82,118.69 L234.14,122.35 L232.24,125.69 L230.17,128.65 L227.92,131.22 L225.54,133.36 L223.04,135.05 L220.46,136.27 L217.82,137.01 L215.15,137.25 M215.87,47.13 L218.68,47.38 L221.47,48.12 L224.19,49.34 L226.82,51.03 L229.33,53.17 L231.70,55.74 L233.89,58.70 L235.88,62.04 L237.66,65.70 L239.19,69.66 L240.47,73.86 L241.48,78.26 L242.21,82.82 L242.65,87.48 L242.80,92.18 L242.66,96.89 L242.24,101.55 L241.54,106.11 L240.57,110.51 L239.35,114.71 L237.88,118.67 L236.19,122.33 L234.28,125.66 L232.18,128.63 L229.92,131.20 L227.52,133.34 L225.01,135.03 L222.40,136.25 L219.74,136.99 L217.05,137.24 M217.81,47.06 L220.64,47.31 L223.44,48.05 L226.18,49.27 L228.83,50.96 L231.35,53.10 L233.73,55.67 L235.94,58.64 L237.94,61.98 L239.73,65.64 L241.27,69.60 L242.56,73.81 L243.57,78.21 L244.31,82.77 L244.75,87.43 L244.90,92.14 L244.76,96.85 L244.33,101.51 L243.63,106.07 L242.66,110.48 L241.42,114.68 L239.94,118.64 L238.23,122.31 L236.31,125.64 L234.20,128.61 L231.93,131.18 L229.51,133.32 L226.97,135.01 L224.35,136.24 L221.66,136.97 L218.95,137.22 M219.75,46.99 L222.60,47.24 L225.41,47.97 L228.17,49.20 L230.83,50.89 L233.37,53.03 L235.77,55.60 L237.98,58.58 L240.00,61.91 L241.80,65.58 L243.35,69.54 L244.64,73.75 L245.67,78.16 L246.40,82.72 L246.85,87.38 L247.00,92.10 L246.86,96.81 L246.43,101.48 L245.72,106.04 L244.74,110.44 L243.50,114.65 L242.01,118.61 L240.28,122.28 L238.35,125.62 L236.22,128.59 L233.93,131.16 L231.49,133.31 L228.93,135.00 L226.29,136.22 L223.59,136.96 L220.85,137.21 M221.69,46.92 L224.55,47.16 L227.39,47.90 L230.16,49.13 L232.84,50.82 L235.39,52.96 L237.80,55.54 L240.03,58.51 L242.06,61.85 L243.86,65.52 L245.43,69.49 L246.73,73.69 L247.76,78.11 L248.50,82.67 L248.95,87.34 L249.10,92.05 L248.96,96.77 L248.52,101.44 L247.81,106.00 L246.82,110.41 L245.57,114.62 L244.07,118.58 L242.33,122.26 L240.38,125.60 L238.24,128.57 L235.93,131.14 L233.47,133.29 L230.90,134.98 L228.23,136.20 L225.51,136.94 L222.76,137.19 M223.63,46.84 L226.51,47.09 L229.36,47.83 L232.15,49.06 L234.84,50.75 L237.41,52.90 L239.83,55.47 L242.08,58.45 L244.12,61.79 L245.93,65.46 L247.51,69.43 L248.82,73.64 L249.85,78.05 L250.60,82.62 L251.05,87.29 L251.20,92.01 L251.05,96.73 L250.62,101.40 L249.90,105.97 L248.91,110.38 L247.64,114.59 L246.13,118.56 L244.38,122.23 L242.42,125.57 L240.26,128.55 L237.93,131.12 L235.45,133.27 L232.86,134.96 L230.18,136.19 L227.43,136.93 L224.66,137.17" fill="none" stroke="#fff" stroke-width="0.8" opacity="0.88"/>
</g>
<path d="M94.40,51.61 L318.00,43.23" stroke="#bcd8d8" stroke-width="1.1" fill="none"/>
<path d="M98.40,138.28 L322.00,136.49" stroke="#bcd8d8" stroke-width="1.1" fill="none"/>
<path d="M108.40,95.01 L108.47,98.77 L108.42,102.51 L108.25,106.19 L107.95,109.79 L107.54,113.27 L107.01,116.62 L106.37,119.80 L105.63,122.79 L104.78,125.57 L103.84,128.12 L102.82,130.41 L101.71,132.44 L100.53,134.18 L99.29,135.62 L98.00,136.76 L96.67,137.57 L95.30,138.06 L93.91,138.23 L92.51,138.06 L91.11,137.57 L89.72,136.76 L88.35,135.62 L87.01,134.18 L85.71,132.44 L84.46,130.41 L83.27,128.12 L82.16,125.57 L81.12,122.79 L80.16,119.80 L79.30,116.62 L78.54,113.27 L77.88,109.79 L77.34,106.19 L76.91,102.51 L76.59,98.77 L76.40,95.01 L76.33,91.24 L76.38,87.50 L76.55,83.82 L76.85,80.22 L77.26,76.74 L77.79,73.40 L78.43,70.22 L79.17,67.22 L80.02,64.44 L80.96,61.90 L81.98,59.60 L83.09,57.58 L84.27,55.83 L85.51,54.39 L86.80,53.26 L88.13,52.44 L89.50,51.95 L90.89,51.78 L92.29,51.95 L93.69,52.44 L95.08,53.26 L96.45,54.39 L97.79,55.83 L99.09,57.58 L100.34,59.60 L101.53,61.90 L102.64,64.44 L103.68,67.22 L104.64,70.22 L105.50,73.40 L106.26,76.74 L106.92,80.22 L107.46,83.82 L107.89,87.50 L108.21,91.24 Z" fill="#ecd44e"/>
<path d="M105.10,95.01 L105.17,98.28 L105.15,101.54 L105.04,104.74 L104.84,107.87 L104.55,110.90 L104.18,113.81 L103.72,116.57 L103.19,119.18 L102.57,121.59 L101.89,123.81 L101.15,125.81 L100.34,127.57 L99.48,129.08 L98.57,130.34 L97.63,131.33 L96.65,132.04 L95.64,132.46 L94.62,132.61 L93.58,132.46 L92.55,132.04 L91.52,131.33 L90.50,130.34 L89.51,129.08 L88.54,127.57 L87.61,125.81 L86.72,123.81 L85.89,121.59 L85.11,119.18 L84.39,116.57 L83.74,113.81 L83.16,110.90 L82.66,107.87 L82.24,104.74 L81.91,101.54 L81.66,98.28 L81.50,95.01 L81.43,91.73 L81.45,88.48 L81.56,85.28 L81.76,82.15 L82.05,79.12 L82.42,76.21 L82.88,73.44 L83.41,70.84 L84.03,68.42 L84.71,66.20 L85.45,64.21 L86.26,62.44 L87.12,60.93 L88.03,59.67 L88.97,58.69 L89.95,57.98 L90.96,57.55 L91.98,57.41 L93.02,57.55 L94.05,57.98 L95.08,58.69 L96.10,59.67 L97.09,60.93 L98.06,62.44 L98.99,64.21 L99.88,66.20 L100.71,68.42 L101.49,70.84 L102.21,73.44 L102.86,76.21 L103.44,79.12 L103.94,82.15 L104.36,85.28 L104.69,88.48 L104.94,91.73 Z" fill="#dfa3ad"/>
<ellipse cx="92" cy="121" rx="10.2" ry="15" fill="#ecd44e"/>
<filter id="bl24" x="-50%" y="-50%" width="200%" height="200%"><feGaussianBlur stdDeviation="2.3"/></filter>
<rect x="5.5" y="78.6" width="92" height="21.6" rx="10.8" fill="#e5272f" opacity="0.98" filter="url(#bl24)"/>
<rect x="14" y="86.7" width="75" height="5.2" rx="2.6" fill="url(#core)" filter="url(#bl1)"/>
<line x1="80" y1="172.4" x2="356" y2="172.4" stroke="#111" stroke-width="1.2"/>
<polygon points="360,172.4 355,169.6 355,175.2" fill="#111"/>
<line x1="96.30" y1="167.3" x2="96.30" y2="176.7" stroke="#111" stroke-width="1"/>
<line x1="133.90" y1="168.5" x2="133.90" y2="176.2" stroke="#111" stroke-width="1"/>
<line x1="171.50" y1="167.3" x2="171.50" y2="176.7" stroke="#111" stroke-width="1"/>
<line x1="209.10" y1="168.5" x2="209.10" y2="176.2" stroke="#111" stroke-width="1"/>
<line x1="246.70" y1="167.3" x2="246.70" y2="176.7" stroke="#111" stroke-width="1"/>
<line x1="284.30" y1="168.5" x2="284.30" y2="176.2" stroke="#111" stroke-width="1"/>
<line x1="321.90" y1="167.3" x2="321.90" y2="176.7" stroke="#111" stroke-width="1"/>
<line x1="96.80" y1="138.50" x2="96.80" y2="172.00" stroke="#111" stroke-width="1.05" stroke-dasharray="3.4,2.1"/>
<line x1="118.90" y1="138.00" x2="118.90" y2="170.00" stroke="#111" stroke-width="1.05" stroke-dasharray="3.4,2.1"/>
<line x1="230.20" y1="138.00" x2="230.20" y2="172.00" stroke="#111" stroke-width="1.05" stroke-dasharray="3.4,2.1"/>
<line x1="236.80" y1="138.00" x2="236.80" y2="172.00" stroke="#111" stroke-width="1.05" stroke-dasharray="3.4,2.1"/>
<line x1="239.80" y1="138.00" x2="239.80" y2="172.00" stroke="#111" stroke-width="1.05" stroke-dasharray="3.4,2.1"/>
<line x1="310.30" y1="138.00" x2="310.30" y2="169.00" stroke="#111" stroke-width="1.05" stroke-dasharray="3.4,2.1"/>
<line x1="321.60" y1="138.00" x2="321.60" y2="176.50" stroke="#111" stroke-width="1.05" stroke-dasharray="3.4,2.1"/>
<text x="96.30" y="188.2" font-size="12" font-weight="bold" text-anchor="middle" fill="#111">0</text>
<text x="171.50" y="188.2" font-size="12" font-weight="bold" text-anchor="middle" fill="#111">1</text>
<text x="246.70" y="188.2" font-size="12" font-weight="bold" text-anchor="middle" fill="#111">2</text>
<text x="321.90" y="188.2" font-size="12" font-weight="bold" text-anchor="middle" fill="#111">3</text>
<text x="211.3" y="203.8" font-size="12" font-weight="bold" text-anchor="middle" fill="#111">Position (μm)</text>
<text x="5.1" y="22.4" font-size="14" fill="#111">(a)</text>
<text x="8" y="71.9" font-size="13" fill="#111">Photon</text>
<text x="95" y="43.7" font-size="13.1" fill="#111" transform="rotate(-1.5 95 43.7)">Passivation</text>
<path d="M165.7,38.1 Q171,37.5 173.2,43" stroke="#111" stroke-width="1.1" fill="none"/><polygon points="173.7,47 170.6,42.5 176,42.2" fill="#111"/>
<text x="0" y="0" font-size="13.6" fill="#111" transform="translate(351.7 23.1) rotate(-1.5) scale(0.72 1)">Metal</text>
<g fill="#fff" font-size="12.6" stroke="#fff" stroke-width="0.25"><text x="142.3" y="86.9" textLength="98" lengthAdjust="spacing">InGaAs/GaAsSb</text><text x="150.4" y="102.9" textLength="80" lengthAdjust="spacing">SLs Absorber</text></g>
<g fill="#fff" font-size="12.9"><text x="268.8" y="86.5" textLength="63" lengthAdjust="spacing">AlGaAsSb</text><text x="273.6" y="102.1" textLength="52.8" lengthAdjust="spacing">Multiplier</text></g>
<rect x="433.5" y="3.40" width="12.5" height="12.5" fill="#dca0a9" stroke="#8a5a62" stroke-width="0.8"/>
<text x="460.6" y="13.60" font-size="13" fill="#111" textLength="202.6" lengthAdjust="spacingAndGlyphs"><tspan font-style="italic">p</tspan><tspan dy="-5" font-size="8.5">++</tspan><tspan dy="5"> GaAsSb (20 nm, 1×10</tspan><tspan dy="-5" font-size="8.5">19</tspan><tspan dy="5"> cm</tspan><tspan dy="-5" font-size="8.5">-3</tspan><tspan dy="5">)</tspan></text>
<rect x="433.5" y="27.50" width="12.5" height="12.5" fill="#de8a33" stroke="#7a4a1a" stroke-width="0.8"/>
<text x="460.6" y="37.65" font-size="13" fill="#111" textLength="205.0" lengthAdjust="spacingAndGlyphs"><tspan font-style="italic">p</tspan><tspan dy="-5" font-size="8.5">+</tspan><tspan dy="5"> GaAsSb (100 nm, 2×10</tspan><tspan dy="-5" font-size="8.5">18</tspan><tspan dy="5"> cm</tspan><tspan dy="-5" font-size="8.5">-3</tspan><tspan dy="5">)</tspan></text>
<rect x="433.5" y="51.60" width="12.5" height="12.5" fill="#e23a44" stroke="#8a2a30" stroke-width="0.8"/>
<rect x="434" y="53.00" width="11.5" height="1.7" fill="#fff"/>
<rect x="434" y="56.70" width="11.5" height="1.7" fill="#fff"/>
<rect x="434" y="60.40" width="11.5" height="1.7" fill="#fff"/>
<text x="460.6" y="61.70" font-size="13" fill="#111" textLength="223.0" lengthAdjust="spacingAndGlyphs">UID InGaAs/GaAsSb SLs (1500 nm)</text>
<rect x="433.5" y="75.70" width="12.5" height="12.5" fill="#b9bce2" stroke="#6a6c8a" stroke-width="0.8"/>
<text x="460.6" y="85.75" font-size="13" fill="#111" textLength="165.0" lengthAdjust="spacingAndGlyphs">UID Al<tspan dy="3.8" font-size="9" font-style="italic">x</tspan><tspan dy="-3.8">Ga</tspan><tspan dy="3.8" font-size="9">1-<tspan font-style="italic">x</tspan></tspan><tspan dy="-3.8">AsSb (110 nm)</tspan></text>
<rect x="433.5" y="99.80" width="12.5" height="12.5" fill="#6fd2d9" stroke="#3a7a80" stroke-width="0.8"/>
<text x="460.6" y="109.80" font-size="13" fill="#111" textLength="217.0" lengthAdjust="spacingAndGlyphs"><tspan font-style="italic">p</tspan> AlGaAsSb (30 nm, 5.8×10<tspan dy="-5" font-size="8.5">17</tspan><tspan dy="5"> cm</tspan><tspan dy="-5" font-size="8.5">-3</tspan><tspan dy="5">)</tspan></text>
<rect x="433.5" y="123.90" width="12.5" height="12.5" fill="#4a60b6" stroke="#2a3570" stroke-width="0.8"/>
<text x="460.6" y="133.85" font-size="13" fill="#111" textLength="156.2" lengthAdjust="spacingAndGlyphs">UID AlGaAsSb (1000 nm)</text>
<rect x="433.5" y="148.00" width="12.5" height="12.5" fill="#2f3a88" stroke="#1a2050" stroke-width="0.8"/>
<text x="460.6" y="157.90" font-size="13" fill="#111" textLength="224.0" lengthAdjust="spacingAndGlyphs"><tspan font-style="italic">n</tspan><tspan dy="-5" font-size="8.5">++</tspan><tspan dy="5">AlGaAsSb, (100 nm, 2×10</tspan><tspan dy="-5" font-size="8.5">19</tspan><tspan dy="5"> cm</tspan><tspan dy="-5" font-size="8.5">-3</tspan><tspan dy="5">)</tspan></text>
<rect x="433.5" y="172.10" width="12.5" height="12.5" fill="#e8e8e8" stroke="#777" stroke-width="0.8"/>
<text x="460.6" y="181.95" font-size="13" fill="#111" textLength="196.0" lengthAdjust="spacingAndGlyphs"><tspan font-style="italic">n</tspan><tspan dy="-5" font-size="8.5">++</tspan><tspan dy="5">InAlAs (500 nm, 1×10</tspan><tspan dy="-5" font-size="8.5">19</tspan><tspan dy="5"> cm</tspan><tspan dy="-5" font-size="8.5">-3</tspan><tspan dy="5">)</tspan></text>
<clipPath id="clipb"><rect x="117.1" y="227.9" width="226.5" height="167.1"/></clipPath>
<g clip-path="url(#clipb)" fill="none" stroke-width="1.4" stroke-linejoin="round">
<polyline points="117.10,395.00 230.35,395.00 234.88,394.31 237.90,390.37 240.54,384.58 243.94,382.96 246.96,382.03 248.85,385.74 249.60,394.54 250.74,394.54 251.49,384.58 252.25,389.21 253.76,392.22 256.78,393.84 262.81,394.77 324.35,388.05 325.48,381.80 326.61,390.37 327.37,395.00 343.60,395.00" stroke="#222222"/>
<polyline points="125.41,395.00 126.54,378.10 127.29,384.81 128.05,388.66 128.80,390.87 129.56,392.14 130.31,392.86 131.07,393.28 131.82,393.52 132.58,393.66 133.33,393.74 134.09,393.78 134.84,393.81 139.75,393.61 249.23,388.75 250.74,388.05 251.87,310.71 326.01,302.83 327.52,395.00 343.60,395.00" stroke="#3f6fc6"/>
<polyline points="117.10,395.00 118.46,374.85 120.12,395.00 123.89,395.00 126.16,357.25 239.86,352.62 240.92,351.00 242.05,347.53 243.94,347.06 245.45,342.20 248.85,341.28 251.49,264.39 326.69,257.22 328.50,395.00 333.03,395.00 334.54,322.52 336.05,395.00 343.60,395.00" stroke="#e0303a"/>
</g>
<rect x="117.10" y="232.90" width="226.50" height="162.10" fill="none" stroke="#111" stroke-width="1.2"/>
<path d="M117.10,395.00 v-5.0 M135.97,395.00 v-2.8 M154.85,395.00 v-5.0 M173.72,395.00 v-2.8 M192.60,395.00 v-5.0 M211.48,395.00 v-2.8 M230.35,395.00 v-5.0 M249.23,395.00 v-2.8 M268.10,395.00 v-5.0 M286.98,395.00 v-2.8 M305.85,395.00 v-5.0 M324.73,395.00 v-2.8 M343.60,395.00 v-5.0 M117.10,395.00 h5.2 M117.10,383.42 h2.7 M117.10,371.84 h5.2 M117.10,360.26 h2.7 M117.10,348.69 h5.2 M117.10,337.11 h2.7 M117.10,325.53 h5.2 M117.10,313.95 h2.7 M117.10,302.37 h5.2 M117.10,290.79 h2.7 M117.10,279.21 h5.2 M117.10,267.64 h2.7 M117.10,256.06 h5.2 M117.10,244.48 h2.7 M117.10,232.90 h5.2" stroke="#111" stroke-width="1.1" fill="none"/>
<text x="117.10" y="411.8" font-size="13.5" text-anchor="middle" fill="#111">0.0</text>
<text x="154.85" y="411.8" font-size="13.5" text-anchor="middle" fill="#111">0.5</text>
<text x="192.60" y="411.8" font-size="13.5" text-anchor="middle" fill="#111">1.0</text>
<text x="230.35" y="411.8" font-size="13.5" text-anchor="middle" fill="#111">1.5</text>
<text x="268.10" y="411.8" font-size="13.5" text-anchor="middle" fill="#111">2.0</text>
<text x="305.85" y="411.8" font-size="13.5" text-anchor="middle" fill="#111">2.5</text>
<text x="343.60" y="411.8" font-size="13.5" text-anchor="middle" fill="#111">3.0</text>
<text x="110.9" y="399.30" font-size="13.5" text-anchor="end" fill="#111">0</text>
<text x="110.9" y="376.14" font-size="13.5" text-anchor="end" fill="#111">100</text>
<text x="110.9" y="352.99" font-size="13.5" text-anchor="end" fill="#111">200</text>
<text x="110.9" y="329.83" font-size="13.5" text-anchor="end" fill="#111">300</text>
<text x="110.9" y="306.67" font-size="13.5" text-anchor="end" fill="#111">400</text>
<text x="110.9" y="283.51" font-size="13.5" text-anchor="end" fill="#111">500</text>
<text x="110.9" y="260.36" font-size="13.5" text-anchor="end" fill="#111">600</text>
<text x="110.9" y="237.20" font-size="13.5" text-anchor="end" fill="#111">700</text>
<text x="229.8" y="432.9" font-size="14" text-anchor="middle" fill="#111">Position (μm)</text>
<text transform="translate(74.2 313.6) rotate(-90)" font-size="14" text-anchor="middle" fill="#111">Electric field (kV/cm)</text>
<text x="61.8" y="232.8" font-size="14" fill="#111">(b)</text>
<rect x="128.8" y="237.1" width="60.9" height="54.1" fill="#fff" stroke="#777" stroke-width="1"/>
<line x1="130.5" y1="246.0" x2="158.6" y2="246.0" stroke="#222222" stroke-width="1.3"/>
<line x1="130.5" y1="261.7" x2="158.6" y2="261.7" stroke="#3f6fc6" stroke-width="1.3"/>
<line x1="130.5" y1="279.8" x2="158.6" y2="279.8" stroke="#e0303a" stroke-width="1.3"/>
<text x="162.2" y="250.3" font-size="12.5" fill="#111" textLength="26" lengthAdjust="spacingAndGlyphs">Zero</text>
<text x="162.4" y="265.1" font-size="12.5" fill="#111"><tspan font-style="italic">V</tspan><tspan font-size="8.8" dy="4" x="170">PT</tspan></text>
<text x="162.4" y="283.6" font-size="12.5" fill="#111"><tspan font-style="italic">V</tspan><tspan font-size="8.8" dy="4" x="170">OP</tspan></text>
<clipPath id="clipc"><rect x="428.8" y="229.3" width="227.5" height="162.8"/></clipPath>
<g clip-path="url(#clipc)" fill="none" stroke-linejoin="round" stroke-width="1.5">
<polyline points="428.80,236.50 504.63,236.66 553.92,236.97 563.78,234.17 600.18,235.57 639.62,238.06 656.30,238.06" stroke="#3a3a3a"/>
<polyline points="428.80,236.50 504.63,236.66 553.92,236.97 563.78,237.43 600.18,238.21 639.62,239.77 656.30,239.77" stroke="#3a3a3a"/>
<polyline points="428.80,236.50 504.63,237.90 553.92,239.15 563.78,239.46 639.62,299.21 656.30,299.21" stroke="#3a68c0"/>
<polyline points="428.80,236.50 504.63,237.90 553.92,239.15 563.78,242.26 639.62,301.85 656.30,301.85" stroke="#3a68c0"/>
<polyline points="428.80,236.50 436.00,236.50 553.92,277.73 563.78,280.38 639.62,372.18 656.30,372.18" stroke="#e0313b"/>
<polyline points="428.80,236.50 436.00,236.50 553.92,277.73 563.78,283.49 639.62,374.83 656.30,374.83" stroke="#e0313b"/>
</g>
<rect x="428.80" y="229.30" width="227.50" height="162.80" fill="none" stroke="#111" stroke-width="1.2"/>
<path d="M428.80,392.10 v-5.0 M447.76,392.10 v-2.8 M466.72,392.10 v-5.0 M485.68,392.10 v-2.8 M504.63,392.10 v-5.0 M523.59,392.10 v-2.8 M542.55,392.10 v-5.0 M561.51,392.10 v-2.8 M580.47,392.10 v-5.0 M599.42,392.10 v-2.8 M618.38,392.10 v-5.0 M637.34,392.10 v-2.8 M656.30,392.10 v-5.0 M428.80,236.50 h5.2 M428.80,252.06 h2.7 M428.80,267.62 h5.2 M428.80,283.18 h2.7 M428.80,298.74 h5.2 M428.80,314.30 h2.7 M428.80,329.86 h5.2 M428.80,345.42 h2.7 M428.80,360.98 h5.2 M428.80,376.54 h2.7 M428.80,392.10 h5.2" stroke="#111" stroke-width="1.1" fill="none"/>
<text x="428.80" y="409.7" font-size="13.5" text-anchor="middle" fill="#111">0.0</text>
<text x="466.72" y="409.7" font-size="13.5" text-anchor="middle" fill="#111">0.5</text>
<text x="504.63" y="409.7" font-size="13.5" text-anchor="middle" fill="#111">1.0</text>
<text x="542.55" y="409.7" font-size="13.5" text-anchor="middle" fill="#111">1.5</text>
<text x="580.47" y="409.7" font-size="13.5" text-anchor="middle" fill="#111">2.0</text>
<text x="618.38" y="409.7" font-size="13.5" text-anchor="middle" fill="#111">2.5</text>
<text x="656.30" y="409.7" font-size="13.5" text-anchor="middle" fill="#111">3.0</text>
<text x="422.4" y="241.10" font-size="13.5" text-anchor="end" fill="#111">0</text>
<text x="422.4" y="272.22" font-size="13.5" text-anchor="end" fill="#111">-20</text>
<text x="422.4" y="303.34" font-size="13.5" text-anchor="end" fill="#111">-40</text>
<text x="422.4" y="334.46" font-size="13.5" text-anchor="end" fill="#111">-60</text>
<text x="422.4" y="365.58" font-size="13.5" text-anchor="end" fill="#111">-80</text>
<text x="422.4" y="396.70" font-size="13.5" text-anchor="end" fill="#111">-100</text>
<text x="543" y="432.9" font-size="14" text-anchor="middle" fill="#111">Position (μm)</text>
<text transform="translate(386.4 315.3) rotate(-90)" font-size="14" text-anchor="middle" fill="#111">Energy (eV)</text>
<text x="373.9" y="232.9" font-size="14" fill="#111">(c)</text>
<rect x="437.4" y="321" width="67.9" height="59" fill="#fff" stroke="#777" stroke-width="1"/>
<line x1="439" y1="330.8" x2="470.8" y2="330.8" stroke="#444" stroke-width="1.1"/>
<line x1="439" y1="347.8" x2="470.8" y2="347.8" stroke="#4a78c8" stroke-width="1.1"/>
<line x1="439" y1="368.0" x2="470.8" y2="368.0" stroke="#e03a46" stroke-width="1.1"/>
<text x="474.4" y="335" font-size="13.2" fill="#111" textLength="28.6" lengthAdjust="spacingAndGlyphs">Zero</text>
<text x="474.4" y="352.5" font-size="13.5" fill="#111"><tspan font-style="italic">V</tspan><tspan font-size="9.3" dy="3.2" x="483.2">PT</tspan></text>
<text x="474.4" y="372.7" font-size="13.5" fill="#111"><tspan font-style="italic">V</tspan><tspan font-size="9.3" dy="3.2" x="483.2">OP</tspan></text>
</svg></body></html>
